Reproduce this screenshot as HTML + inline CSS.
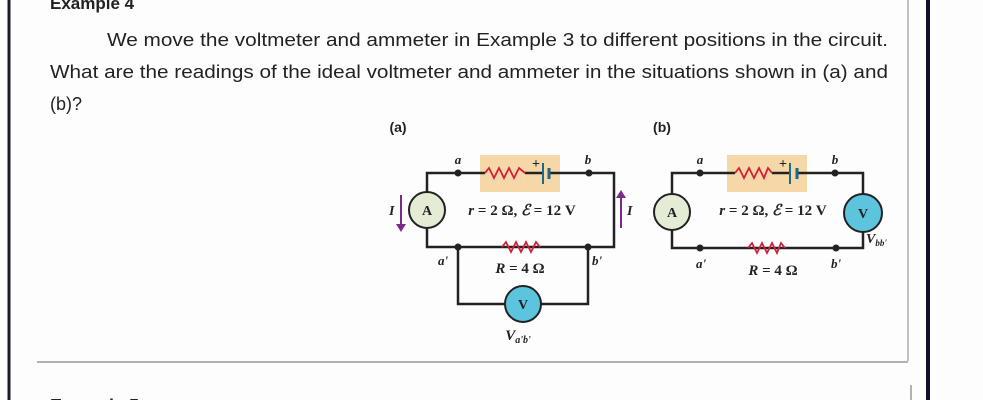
<!DOCTYPE html>
<html><head><meta charset="utf-8"><style>
html,body{margin:0;padding:0;background:#fff;width:983px;height:400px;overflow:hidden}
</style></head><body>
<svg width="983" height="400" viewBox="0 0 983 400" xmlns="http://www.w3.org/2000/svg" font-family="Liberation Sans, sans-serif">
<rect width="983" height="400" fill="#fdfdfd"/>
<line x1="9" y1="0" x2="9" y2="400" stroke="#1a1a2a" stroke-width="3"/>
<line x1="928" y1="0" x2="928" y2="400" stroke="#11112a" stroke-width="4"/>
<line x1="908" y1="0" x2="908" y2="361" stroke="#aab" stroke-width="1.5"/>
<line x1="37" y1="362" x2="908" y2="362" stroke="#999" stroke-width="1.5"/>
<line x1="911" y1="385" x2="911" y2="400" stroke="#999" stroke-width="1.5"/>
<text x="50" y="9" font-size="17" font-weight="bold" fill="#222">Example 4</text>
<text x="50" y="412" font-size="18" font-weight="bold" fill="#222">Example 5</text>
<text x="107" y="46" font-size="18" fill="#222" textLength="781" lengthAdjust="spacingAndGlyphs">We move the voltmeter and ammeter in Example 3 to different positions in the circuit.</text>
<text x="50" y="78" font-size="18" fill="#222" textLength="838" lengthAdjust="spacingAndGlyphs">What are the readings of the ideal voltmeter and ammeter in the situations shown in (a) and</text>
<text x="50" y="110" font-size="18" fill="#222">(b)?</text>
<text x="398" y="132" font-size="14" font-weight="bold" fill="#222" text-anchor="middle">(a)</text>
<text x="662" y="132" font-size="14" font-weight="bold" fill="#222" text-anchor="middle">(b)</text>

<g font-family="Liberation Serif, serif" fill="#222" font-weight="bold">
<!-- circuit a -->
<rect x="480" y="155" width="80" height="37" fill="#f6d7a8"/>
<g stroke="#222" stroke-width="2.5" fill="none">
<polyline points="485,173 427,173 427,247 614,247 614,173 549,173"/>
<line x1="525" y1="173" x2="543" y2="173"/>
<polyline points="458,247 458,304 588,304 588,247"/>
</g>
<polyline points="485,173 489,168 494,178 499,168 504,178 509,168 514,178 519,168 525,173" stroke="#d0203a" stroke-width="1.8" fill="none"/>
<polyline points="502,247 506,242 511,252 516,242 521,252 526,242 531,252 536,242 540,247" stroke="#d0203a" stroke-width="1.8" fill="none"/>
<line x1="543" y1="163" x2="543" y2="184" stroke="#1a6a8a" stroke-width="2"/>
<line x1="549" y1="168" x2="549" y2="179" stroke="#1a6a8a" stroke-width="3"/>
<text x="536" y="168" font-size="14" text-anchor="middle">+</text>
<g fill="#222"><circle cx="458" cy="173" r="3.5"/><circle cx="589" cy="173" r="3.5"/><circle cx="458" cy="247" r="3.5"/><circle cx="588" cy="247" r="3.5"/></g>
<circle cx="427" cy="210" r="18" fill="#e4ecd6" stroke="#222" stroke-width="2"/>
<text x="427" y="215" font-size="14" text-anchor="middle">A</text>
<circle cx="523" cy="304" r="18" fill="#5cc4dc" stroke="#222" stroke-width="2"/>
<text x="523" y="309" font-size="14" text-anchor="middle">V</text>
<text x="458" y="164" font-size="13" font-style="italic" text-anchor="middle">a</text>
<text x="588" y="164" font-size="13" font-style="italic" text-anchor="middle">b</text>
<text x="443" y="265" font-size="13" font-style="italic" text-anchor="middle">a'</text>
<text x="597" y="265" font-size="13" font-style="italic" text-anchor="middle">b'</text>
<text x="522" y="215" font-size="15" text-anchor="middle"><tspan font-style="italic">r</tspan> = 2 Ω, <tspan font-style="italic">ℰ</tspan> = 12 V</text>
<text x="520" y="273" font-size="15" text-anchor="middle"><tspan font-style="italic">R</tspan> = 4 Ω</text>
<text x="518" y="340" font-size="15" font-style="italic" text-anchor="middle">V<tspan font-size="10" dy="3">a'b'</tspan></text>
<line x1="401" y1="195" x2="401" y2="228" stroke="#7a2a8a" stroke-width="2"/>
<polygon points="396,224 406,224 401,232" fill="#7a2a8a"/>
<text x="389" y="215" font-size="14" font-style="italic">I</text>
<line x1="621" y1="228" x2="621" y2="195" stroke="#7a2a8a" stroke-width="2"/>
<polygon points="616,198 626,198 621,190" fill="#7a2a8a"/>
<text x="627" y="215" font-size="14" font-style="italic">I</text>

<!-- circuit b -->
<rect x="727" y="155" width="80" height="37" fill="#f6d7a8"/>
<g stroke="#222" stroke-width="2.5" fill="none">
<polyline points="735,173 672,173 672,248 863,248 863,173 798,173"/>
<line x1="772" y1="173" x2="790" y2="173"/>
</g>
<polyline points="735,173 739,168 744,178 749,168 754,178 759,168 764,178 768,168 772,173" stroke="#d0203a" stroke-width="1.8" fill="none"/>
<polyline points="748,248 752,243 757,253 762,243 767,253 772,243 777,253 781,243 785,248" stroke="#d0203a" stroke-width="1.8" fill="none"/>
<line x1="790" y1="163" x2="790" y2="184" stroke="#1a6a8a" stroke-width="2"/>
<line x1="797" y1="168" x2="797" y2="179" stroke="#1a6a8a" stroke-width="3"/>
<text x="783" y="168" font-size="14" text-anchor="middle">+</text>
<g fill="#222"><circle cx="700" cy="173" r="3.5"/><circle cx="835" cy="173" r="3.5"/><circle cx="700" cy="248" r="3.5"/><circle cx="836" cy="248" r="3.5"/></g>
<circle cx="672" cy="212" r="18" fill="#e4ecd6" stroke="#222" stroke-width="2"/>
<text x="672" y="217" font-size="14" text-anchor="middle">A</text>
<circle cx="863" cy="213" r="19" fill="#5cc4dc" stroke="#222" stroke-width="2"/>
<text x="863" y="218" font-size="14" text-anchor="middle">V</text>
<text x="700" y="164" font-size="13" font-style="italic" text-anchor="middle">a</text>
<text x="835" y="164" font-size="13" font-style="italic" text-anchor="middle">b</text>
<text x="701" y="268" font-size="13" font-style="italic" text-anchor="middle">a'</text>
<text x="836" y="268" font-size="13" font-style="italic" text-anchor="middle">b'</text>
<text x="773" y="215" font-size="15" text-anchor="middle"><tspan font-style="italic">r</tspan> = 2 Ω, <tspan font-style="italic">ℰ</tspan> = 12 V</text>
<text x="773" y="275" font-size="15" text-anchor="middle"><tspan font-style="italic">R</tspan> = 4 Ω</text>
<text x="866" y="243" font-size="14" font-style="italic">V<tspan font-size="9" dy="3">bb'</tspan></text>
</g>
</svg>
</body></html>
